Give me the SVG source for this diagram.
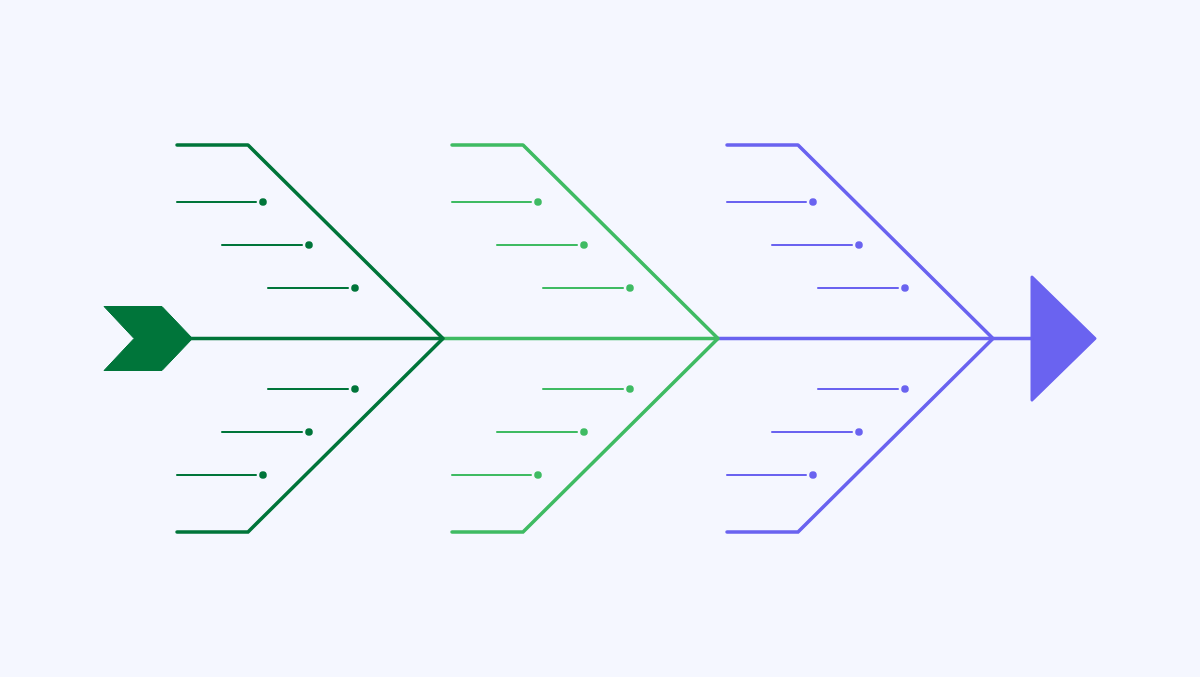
<svg xmlns="http://www.w3.org/2000/svg" width="1200" height="677" viewBox="0 0 1200 677">
<style>
.bone{fill:none;stroke-width:3.5;stroke-linecap:round;stroke-linejoin:round}
.rib{fill:none;stroke-width:2;stroke-linecap:round}
.g1{stroke:#00753a}.g1f{fill:#00753a}
.g2{stroke:#3fbb63}.g2f{fill:#3fbb63}
.g3{stroke:#6a63f0}.g3f{fill:#6a63f0}
</style>
<rect width="1200" height="677" fill="#f5f7ff"/>
<g id="connectors">
<line class="bone g1" x1="180" y1="338.5" x2="443" y2="338.5"/>
<line class="bone g2" x1="443" y1="338.5" x2="718" y2="338.5"/>
<line class="bone g3" x1="718" y1="338.5" x2="1035" y2="338.5"/>
</g>
<g id="tail">
<path class="g1f" d="M104,306.5 L162,306.5 L192.5,338.5 L162,370.5 L104,370.5 L134,338.5 Z" stroke="#00753a" stroke-width="1" stroke-linejoin="round"/>
</g>
<g id="bone1">
<path class="bone g1" d="M177,145 L248,145 L443,338.5 L248,532 L177,532"/>
<g class="rib g1"><line x1="177" y1="202" x2="256" y2="202"/><line x1="222" y1="245" x2="302" y2="245"/><line x1="268" y1="288" x2="348" y2="288"/><line x1="268" y1="389" x2="348" y2="389"/><line x1="222" y1="432" x2="302" y2="432"/><line x1="177" y1="475" x2="256" y2="475"/></g>
<g class="g1f"><circle cx="263" cy="202" r="3.8"/><circle cx="309" cy="245" r="3.8"/><circle cx="355" cy="288" r="3.8"/><circle cx="355" cy="389" r="3.8"/><circle cx="309" cy="432" r="3.8"/><circle cx="263" cy="475" r="3.8"/></g>
</g>
<g id="bone2" transform="translate(275,0)">
<path class="bone g2" d="M177,145 L248,145 L443,338.5 L248,532 L177,532"/>
<g class="rib g2"><line x1="177" y1="202" x2="256" y2="202"/><line x1="222" y1="245" x2="302" y2="245"/><line x1="268" y1="288" x2="348" y2="288"/><line x1="268" y1="389" x2="348" y2="389"/><line x1="222" y1="432" x2="302" y2="432"/><line x1="177" y1="475" x2="256" y2="475"/></g>
<g class="g2f"><circle cx="263" cy="202" r="3.8"/><circle cx="309" cy="245" r="3.8"/><circle cx="355" cy="288" r="3.8"/><circle cx="355" cy="389" r="3.8"/><circle cx="309" cy="432" r="3.8"/><circle cx="263" cy="475" r="3.8"/></g>
</g>
<g id="bone3" transform="translate(550,0)">
<path class="bone g3" d="M177,145 L248,145 L443,338.5 L248,532 L177,532"/>
<g class="rib g3"><line x1="177" y1="202" x2="256" y2="202"/><line x1="222" y1="245" x2="302" y2="245"/><line x1="268" y1="288" x2="348" y2="288"/><line x1="268" y1="389" x2="348" y2="389"/><line x1="222" y1="432" x2="302" y2="432"/><line x1="177" y1="475" x2="256" y2="475"/></g>
<g class="g3f"><circle cx="263" cy="202" r="3.8"/><circle cx="309" cy="245" r="3.8"/><circle cx="355" cy="288" r="3.8"/><circle cx="355" cy="389" r="3.8"/><circle cx="309" cy="432" r="3.8"/><circle cx="263" cy="475" r="3.8"/></g>
</g>
<g id="head">
<path class="g3f" d="M1032,277 L1095,338.5 L1032,400 Z" stroke="#6a63f0" stroke-width="3" stroke-linejoin="round"/>
</g>
</svg>
